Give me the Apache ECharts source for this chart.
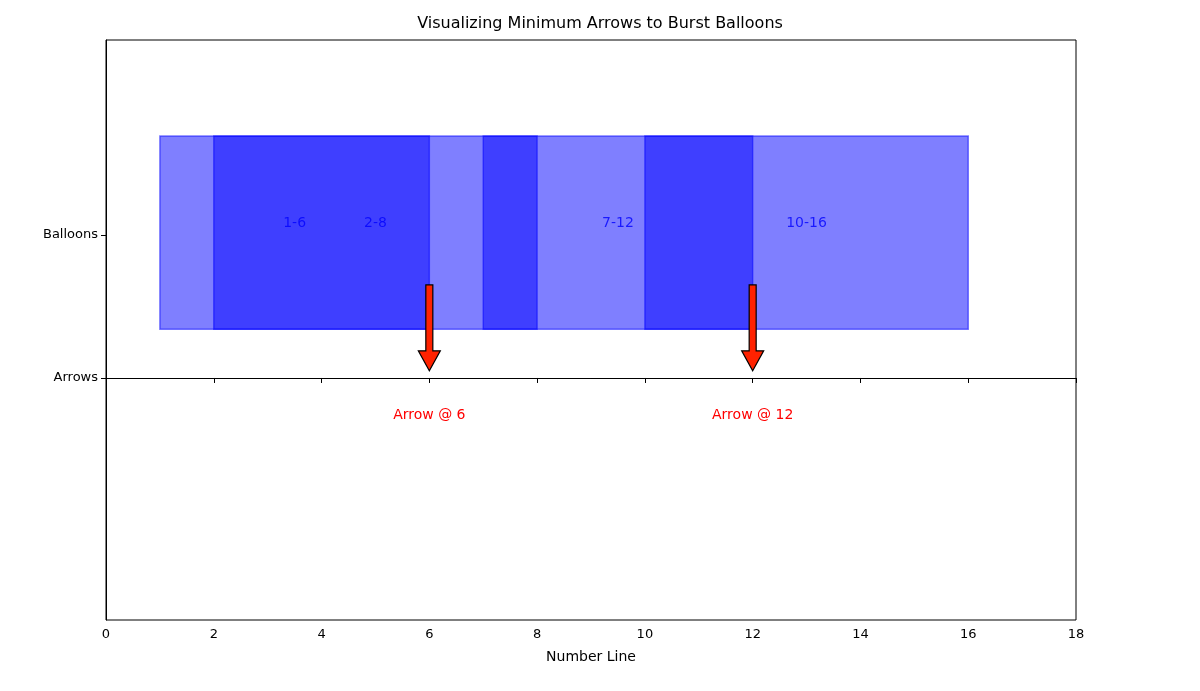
<!DOCTYPE html>
<html><head><meta charset="utf-8">
<script src="https://cdn.jsdelivr.net/npm/echarts@6/dist/echarts.min.js"></script>
<style>body{margin:0}#c{width:1200px;height:691px}</style></head>
<body><div id="c"></div>
<script>
const balloonStarts = [1, 2, 7, 10];
const balloonEnds = [6, 8, 12, 16];
const balloonLabels = ['1-6', '2-8', '7-12', '10-16'];
const arrowPositions = [6, 12];
const arrowLabels = ['Arrow @ 6', 'Arrow @ 12'];
const yTickValues = [0, 1];
const yTickLabels = ['Arrows', 'Balloons'];
const xTicks = [0, 2, 4, 6, 8, 10, 12, 14, 16, 18];

const BAR_BOTTOM = 0.34, BAR_TOP = 1.69, LABEL_Y = 1.08;
const ARROW_TOP = 0.65, ARROW_TIP = 0.05, ARROW_LABEL_Y = -0.26;

const font = 'DejaVu Sans';
const chart = echarts.init(document.getElementById('c'));
chart.setOption({
  animation: false,
  title: {text: 'Visualizing Minimum Arrows to Burst Balloons', left: 'center', top: 11,
    textStyle: {fontFamily: font, fontSize: 16, fontWeight: 'normal', color: '#000'}},
  grid: {left: 106, right: 124, top: 40, bottom: 71, show: true, borderColor: '#000', borderWidth: 1},
  xAxis: {type: 'value', min: 0, max: 18, interval: 2, name: 'Number Line', nameLocation: 'middle', nameGap: 30,
    nameTextStyle: {fontFamily: font, fontSize: 14, color: '#000'},
    axisLine: {lineStyle: {color: '#000'}}, axisTick: {lineStyle: {color: '#000'}, length: 5},
    axisLabel: {fontFamily: font, fontSize: 13, color: '#000'}, splitLine: {show: false}},
  yAxis: {type: 'value', min: -1.69, max: 2.36,
    axisLine: {show: true, lineStyle: {color: '#000'}},
    axisTick: {show: true, customValues: yTickValues, lineStyle: {color: '#000'}, length: 5},
    axisLabel: {customValues: yTickValues, fontFamily: font, fontSize: 13, color: '#000',
      formatter: v => yTickLabels[yTickValues.indexOf(Math.round(v))] || ''},
    splitLine: {show: false}},
  series: [
    {type: 'custom', data: balloonStarts.map((s, i) => [s, balloonEnds[i], i]),
      renderItem: (params, api) => {
        const p0 = api.coord([api.value(0), BAR_TOP]);
        const p1 = api.coord([api.value(1), BAR_BOTTOM]);
        return {type: 'rect', shape: {x: p0[0], y: p0[1], width: p1[0] - p0[0], height: p1[1] - p0[1]},
          style: {fill: 'rgba(0,0,255,0.5)', stroke: 'rgba(0,0,255,0.5)', lineWidth: 1.5}};
      }},
    {type: 'custom', data: balloonStarts.map((s, i) => [(s + balloonEnds[i]) / 2, i]),
      renderItem: (params, api) => {
        const p = api.coord([api.value(0), LABEL_Y]);
        return {type: 'text', x: p[0], y: p[1], style: {text: balloonLabels[api.value(1)], fill: 'rgba(0,0,255,0.8)',
          font: '14px DejaVu Sans', align: 'center', verticalAlign: 'middle'}};
      }},
    {type: 'custom', data: arrowPositions.map((x, i) => [x, i]),
      renderItem: (params, api) => {
        const t = api.coord([api.value(0), ARROW_TOP]);
        const b = api.coord([api.value(0), ARROW_TIP]);
        const l = api.coord([api.value(0), ARROW_LABEL_Y]);
        const x = t[0], hw = 3.5, hh = 11, hl = 20;
        const pts = [[x - hw, t[1]], [x + hw, t[1]], [x + hw, b[1] - hl], [x + hh, b[1] - hl], [x, b[1]],
          [x - hh, b[1] - hl], [x - hw, b[1] - hl]];
        return {type: 'group', children: [
          {type: 'polygon', shape: {points: pts}, style: {fill: '#ff2200', stroke: '#000', lineWidth: 1.2}},
          {type: 'text', x: l[0], y: l[1], style: {text: arrowLabels[api.value(1)], fill: '#ff0000',
            font: '14px DejaVu Sans', align: 'center', verticalAlign: 'middle'}}
        ]};
      }}
  ]
});
</script></body></html>
